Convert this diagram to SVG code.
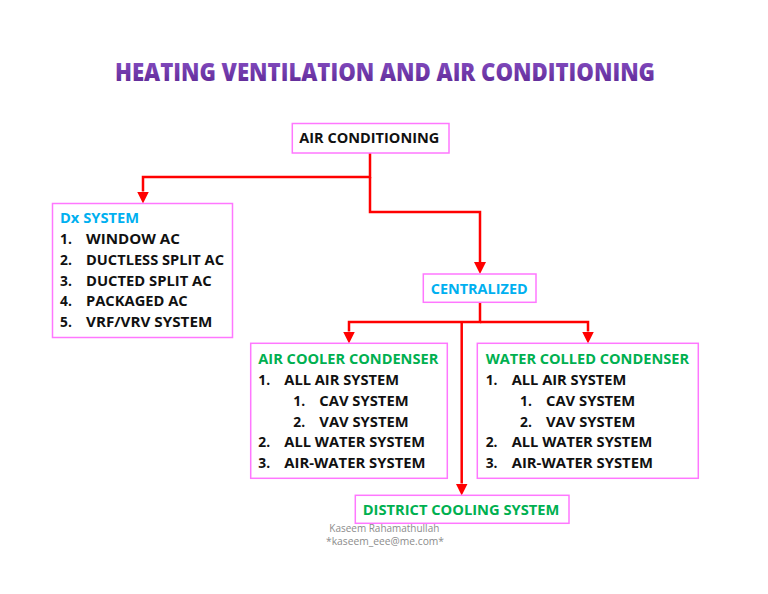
<svg xmlns="http://www.w3.org/2000/svg" width="768" height="594" viewBox="0 0 768 594">
<defs>
<linearGradient id="titleGrad" x1="0" y1="0" x2="0" y2="1">
<stop offset="0" stop-color="#8A52C8"/>
<stop offset="1" stop-color="#5A2590"/>
</linearGradient>
<marker id="arrow" markerUnits="userSpaceOnUse" markerWidth="12" markerHeight="12" refX="0" refY="6" orient="auto">
<path d="M0,0 L12,6 L0,12 Z" fill="#FF0000"/>
</marker>
<style>
.box{fill:#FFFFFF;stroke:#FF77FF;stroke-width:1.5}
.t{font-family:"Open Sans",Lato,"Liberation Sans",sans-serif;font-weight:bold;font-size:13.8px;fill:#111111}
.cyan{fill:#00B0F0}
.green{fill:#00B050}
.conn{fill:none;stroke:#FF0000;stroke-width:2.5}
.foot{font-family:"Open Sans",Lato,"Liberation Sans",sans-serif;font-size:10.5px;fill:#8C8C8C}
</style>
</defs>
<rect width="768" height="594" fill="#FFFFFF"/>
<text x="115" y="81" textLength="540" lengthAdjust="spacingAndGlyphs" style="font-family:'Open Sans',Lato,'Liberation Sans',sans-serif;font-weight:800;font-size:24.5px" fill="url(#titleGrad)">HEATING VENTILATION AND AIR CONDITIONING</text>

<g id="connectors">
<path class="conn" d="M370,153 V177 H143 V191.5" marker-end="url(#arrow)"/>
<path class="conn" d="M370,177 V212 H480 V262" marker-end="url(#arrow)"/>
<path class="conn" d="M480,302 V322 H349 V331.5" marker-end="url(#arrow)"/>
<path class="conn" d="M480,322 H588 V331.5" marker-end="url(#arrow)"/>
<path class="conn" d="M461.7,322 V483.5" marker-end="url(#arrow)"/>
</g>

<g id="air-conditioning">
<rect class="box" x="292.3" y="123.5" width="156.7" height="29.5"/>
<text class="t" x="299.3" y="142.5" textLength="140" lengthAdjust="spacingAndGlyphs">AIR CONDITIONING</text>
</g>

<g id="dx-system">
<rect class="box" x="52.5" y="203.5" width="180" height="134"/>
<text class="t cyan" x="60" y="223.3" textLength="79" lengthAdjust="spacingAndGlyphs">Dx SYSTEM</text>
<text class="t" x="60" y="244">1.</text><text class="t" x="86" y="244" textLength="94" lengthAdjust="spacingAndGlyphs">WINDOW AC</text>
<text class="t" x="60" y="264.8">2.</text><text class="t" x="86" y="264.8" textLength="138" lengthAdjust="spacingAndGlyphs">DUCTLESS SPLIT AC</text>
<text class="t" x="60" y="285.6">3.</text><text class="t" x="86" y="285.6" textLength="125.7" lengthAdjust="spacingAndGlyphs">DUCTED SPLIT AC</text>
<text class="t" x="60" y="306.4">4.</text><text class="t" x="86" y="306.4" textLength="101.7" lengthAdjust="spacingAndGlyphs">PACKAGED AC</text>
<text class="t" x="60" y="327.2">5.</text><text class="t" x="86" y="327.2" textLength="126.3" lengthAdjust="spacingAndGlyphs">VRF/VRV SYSTEM</text>
</g>

<g id="centralized">
<rect class="box" x="423.3" y="274" width="112.7" height="28.3"/>
<text class="t cyan" x="430.7" y="294" textLength="97" lengthAdjust="spacingAndGlyphs">CENTRALIZED</text>
</g>

<g id="air-cooler-condenser">
<rect class="box" x="250.7" y="343.3" width="196.6" height="135"/>
<text class="t green" x="258.3" y="364" textLength="180" lengthAdjust="spacingAndGlyphs">AIR COOLER CONDENSER</text>
<text class="t" x="258.3" y="385">1.</text><text class="t" x="284.3" y="385" textLength="114.7" lengthAdjust="spacingAndGlyphs">ALL AIR SYSTEM</text>
<text class="t" x="293.3" y="405.8">1.</text><text class="t" x="319.3" y="405.8" textLength="89.3" lengthAdjust="spacingAndGlyphs">CAV SYSTEM</text>
<text class="t" x="293.3" y="426.6">2.</text><text class="t" x="319.3" y="426.6" textLength="89.3" lengthAdjust="spacingAndGlyphs">VAV SYSTEM</text>
<text class="t" x="258.3" y="447.4">2.</text><text class="t" x="284.3" y="447.4" textLength="140.7" lengthAdjust="spacingAndGlyphs">ALL WATER SYSTEM</text>
<text class="t" x="258.3" y="468.2">3.</text><text class="t" x="284.3" y="468.2" textLength="141.3" lengthAdjust="spacingAndGlyphs">AIR-WATER SYSTEM</text>
</g>

<g id="water-colled-condenser">
<rect class="box" x="477.3" y="343.3" width="221" height="135"/>
<text class="t green" x="485.7" y="364" textLength="203.3" lengthAdjust="spacingAndGlyphs">WATER COLLED CONDENSER</text>
<text class="t" x="485.7" y="385">1.</text><text class="t" x="511.7" y="385" textLength="114.7" lengthAdjust="spacingAndGlyphs">ALL AIR SYSTEM</text>
<text class="t" x="520" y="405.8">1.</text><text class="t" x="546" y="405.8" textLength="89.3" lengthAdjust="spacingAndGlyphs">CAV SYSTEM</text>
<text class="t" x="520" y="426.6">2.</text><text class="t" x="546" y="426.6" textLength="89.3" lengthAdjust="spacingAndGlyphs">VAV SYSTEM</text>
<text class="t" x="485.7" y="447.4">2.</text><text class="t" x="511.7" y="447.4" textLength="140.7" lengthAdjust="spacingAndGlyphs">ALL WATER SYSTEM</text>
<text class="t" x="485.7" y="468.2">3.</text><text class="t" x="511.7" y="468.2" textLength="141.3" lengthAdjust="spacingAndGlyphs">AIR-WATER SYSTEM</text>
</g>

<g id="district-cooling-system">
<rect class="box" x="355.3" y="495.3" width="213.7" height="28"/>
<text class="t green" x="362.7" y="515" textLength="196.6" lengthAdjust="spacingAndGlyphs">DISTRICT COOLING SYSTEM</text>
</g>

<g id="footer">
<text class="foot" x="329.3" y="531.5" textLength="110" lengthAdjust="spacingAndGlyphs">Kaseem Rahamathullah</text>
<text class="foot" x="326" y="544.5" textLength="118" lengthAdjust="spacingAndGlyphs">*kaseem_eee@me.com*</text>
</g>
</svg>
